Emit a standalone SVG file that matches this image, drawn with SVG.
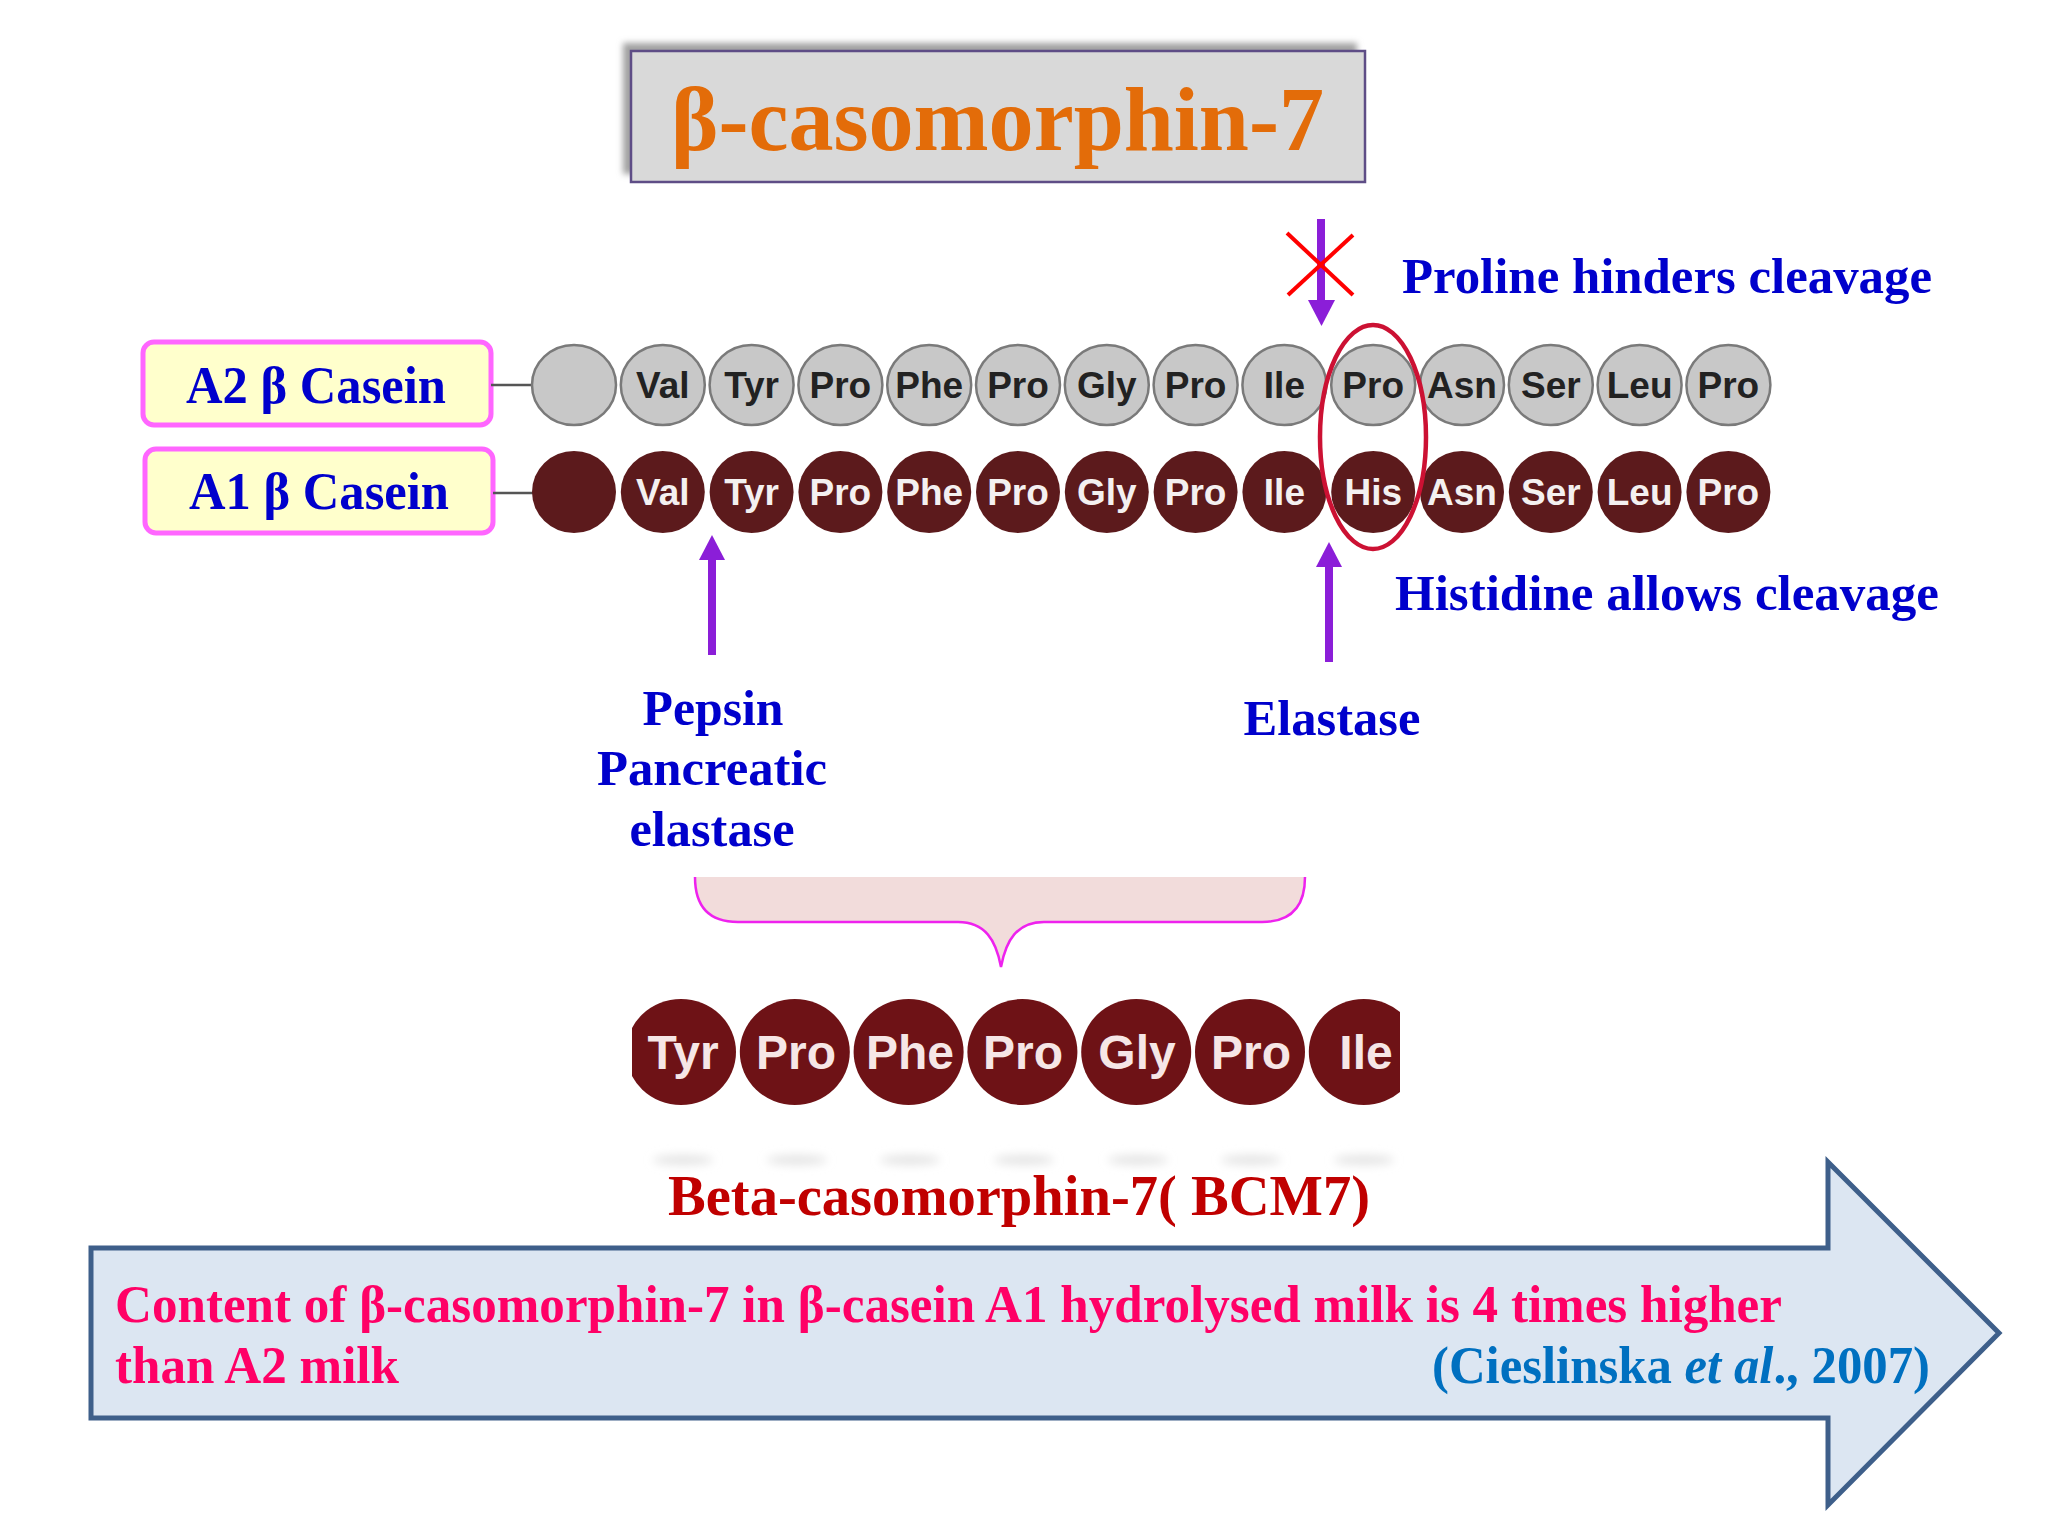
<svg xmlns="http://www.w3.org/2000/svg" width="2048" height="1536" viewBox="0 0 2048 1536">
<defs>
<filter id="blur3" x="-10%" y="-10%" width="120%" height="120%"><feGaussianBlur stdDeviation="3"/></filter>
<filter id="blur4" x="-50%" y="-200%" width="200%" height="500%"><feGaussianBlur stdDeviation="5"/></filter>
<clipPath id="bcmClip"><rect x="632" y="985" width="768" height="135"/></clipPath>
<style>
.serif{font-family:"Liberation Serif","Times New Roman",serif;font-weight:bold}
.blue{fill:#0000CC}
.lbl{fill:#FFFFCC;stroke:#FF66FF;stroke-width:5}
.aa{font-family:"Liberation Sans",Arial,sans-serif;font-weight:bold;font-size:37px;text-anchor:middle}
.g{fill:#C8C8C8;stroke:#7A7A7A;stroke-width:2.5}
.gt{fill:#222222}
.m{fill:#5C1A1C}
.mt{fill:#F4F0F0}
.b{fill:#6E1216}
.bt{font-family:"Liberation Sans",Arial,sans-serif;font-weight:bold;font-size:48px;text-anchor:middle;fill:#F6E6E6}
.pur{fill:#8B1ED8}
</style>
</defs>
<rect width="2048" height="1536" fill="#FFFFFF"/>

<g id="title">
<rect x="623" y="43" width="734" height="131" fill="#A0A0A0" filter="url(#blur3)"/>
<rect x="631" y="51" width="734" height="131" fill="#D9D9D9" stroke="#5E4D86" stroke-width="2.5"/>
<text class="serif" x="671" y="150" font-size="90" fill="#E36C09" textLength="653" lengthAdjust="spacingAndGlyphs">β-casomorphin-7</text>
</g>

<g id="label-a2">
<rect class="lbl" x="143" y="342" width="348" height="83" rx="11"/>
<text class="serif blue" x="186" y="403" font-size="52" textLength="260" lengthAdjust="spacingAndGlyphs">A2 β Casein</text>
</g>
<g id="label-a1">
<rect class="lbl" x="145" y="449" width="348" height="84" rx="11"/>
<text class="serif blue" x="189" y="509" font-size="52" textLength="260" lengthAdjust="spacingAndGlyphs">A1 β Casein</text>
</g>

<g id="connectors">
<line x1="491" y1="385" x2="534" y2="385" stroke="#555555" stroke-width="2.5"/>
<line x1="493" y1="493" x2="534" y2="493" stroke="#555555" stroke-width="2.5"/>
<line x1="1321" y1="219" x2="1321" y2="302" stroke="#8B1ED8" stroke-width="8"/>
<polygon class="pur" points="1308,300 1335,300 1321.5,326"/>
<line x1="1287" y1="233" x2="1353" y2="295" stroke="#FF0000" stroke-width="4"/>
<line x1="1353" y1="235" x2="1288" y2="295" stroke="#FF0000" stroke-width="4"/>
<line x1="712" y1="558" x2="712" y2="655" stroke="#8B1ED8" stroke-width="8"/>
<polygon class="pur" points="699,560 725,560 712,535"/>
<line x1="1329" y1="565" x2="1329" y2="662" stroke="#8B1ED8" stroke-width="8"/>
<polygon class="pur" points="1316,567 1342,567 1329,542"/>
<path d="M695,877 C695,905 708,922 738,922 L958,922 C985,922 996,940 1001,967 C1006,940 1017,922 1044,922 L1262,922 C1292,922 1305,905 1305,877 Z" fill="#F2DCDB" stroke="none"/>
<path d="M695,877 C695,905 708,922 738,922 L958,922 C985,922 996,940 1001,967 C1006,940 1017,922 1044,922 L1262,922 C1292,922 1305,905 1305,877" fill="none" stroke="#EE22EE" stroke-width="2.5"/>
</g>

<g id="a2-chain">
<ellipse class="g" cx="574" cy="385" rx="42" ry="40"/>
<ellipse class="g" cx="662.8" cy="385" rx="42" ry="40"/>
<ellipse class="g" cx="751.6" cy="385" rx="42" ry="40"/>
<ellipse class="g" cx="840.4" cy="385" rx="42" ry="40"/>
<ellipse class="g" cx="929.2" cy="385" rx="42" ry="40"/>
<ellipse class="g" cx="1018" cy="385" rx="42" ry="40"/>
<ellipse class="g" cx="1106.8" cy="385" rx="42" ry="40"/>
<ellipse class="g" cx="1195.6" cy="385" rx="42" ry="40"/>
<ellipse class="g" cx="1284.4" cy="385" rx="42" ry="40"/>
<ellipse class="g" cx="1373.2" cy="385" rx="42" ry="40"/>
<ellipse class="g" cx="1462" cy="385" rx="42" ry="40"/>
<ellipse class="g" cx="1550.8" cy="385" rx="42" ry="40"/>
<ellipse class="g" cx="1639.6" cy="385" rx="42" ry="40"/>
<ellipse class="g" cx="1728.4" cy="385" rx="42" ry="40"/>
<g class="aa gt">
<text x="662.8" y="398">Val</text>
<text x="751.6" y="398">Tyr</text>
<text x="840.4" y="398">Pro</text>
<text x="929.2" y="398">Phe</text>
<text x="1018" y="398">Pro</text>
<text x="1106.8" y="398">Gly</text>
<text x="1195.6" y="398">Pro</text>
<text x="1284.4" y="398">Ile</text>
<text x="1373.2" y="398">Pro</text>
<text x="1462" y="398">Asn</text>
<text x="1550.8" y="398">Ser</text>
<text x="1639.6" y="398">Leu</text>
<text x="1728.4" y="398">Pro</text>
</g>
</g>

<g id="a1-chain">
<ellipse class="m" cx="574" cy="492" rx="42" ry="41"/>
<ellipse class="m" cx="662.8" cy="492" rx="42" ry="41"/>
<ellipse class="m" cx="751.6" cy="492" rx="42" ry="41"/>
<ellipse class="m" cx="840.4" cy="492" rx="42" ry="41"/>
<ellipse class="m" cx="929.2" cy="492" rx="42" ry="41"/>
<ellipse class="m" cx="1018" cy="492" rx="42" ry="41"/>
<ellipse class="m" cx="1106.8" cy="492" rx="42" ry="41"/>
<ellipse class="m" cx="1195.6" cy="492" rx="42" ry="41"/>
<ellipse class="m" cx="1284.4" cy="492" rx="42" ry="41"/>
<ellipse class="m" cx="1373.2" cy="492" rx="42" ry="41"/>
<ellipse class="m" cx="1462" cy="492" rx="42" ry="41"/>
<ellipse class="m" cx="1550.8" cy="492" rx="42" ry="41"/>
<ellipse class="m" cx="1639.6" cy="492" rx="42" ry="41"/>
<ellipse class="m" cx="1728.4" cy="492" rx="42" ry="41"/>
<g class="aa mt">
<text x="662.8" y="505">Val</text>
<text x="751.6" y="505">Tyr</text>
<text x="840.4" y="505">Pro</text>
<text x="929.2" y="505">Phe</text>
<text x="1018" y="505">Pro</text>
<text x="1106.8" y="505">Gly</text>
<text x="1195.6" y="505">Pro</text>
<text x="1284.4" y="505">Ile</text>
<text x="1373.2" y="505">His</text>
<text x="1462" y="505">Asn</text>
<text x="1550.8" y="505">Ser</text>
<text x="1639.6" y="505">Leu</text>
<text x="1728.4" y="505">Pro</text>
</g>
</g>

<g id="highlight">
<ellipse cx="1373" cy="437" rx="53" ry="112" fill="none" stroke="#CC1133" stroke-width="4.5"/>
</g>

<g id="proline-note">
<text class="serif blue" x="1402" y="293" font-size="50" textLength="530" lengthAdjust="spacingAndGlyphs">Proline hinders cleavage</text>
</g>
<g id="histidine-note">
<text class="serif blue" x="1395" y="610" font-size="50" textLength="544" lengthAdjust="spacingAndGlyphs">Histidine allows cleavage</text>
</g>
<g id="pepsin-label" class="serif blue" font-size="50" text-anchor="middle">
<text x="713" y="725" textLength="141" lengthAdjust="spacingAndGlyphs">Pepsin</text>
<text x="712" y="785" textLength="230" lengthAdjust="spacingAndGlyphs">Pancreatic</text>
<text x="712" y="846" textLength="165" lengthAdjust="spacingAndGlyphs">elastase</text>
</g>
<g id="elastase-label">
<text class="serif blue" x="1332" y="735" font-size="50" text-anchor="middle" textLength="177" lengthAdjust="spacingAndGlyphs">Elastase</text>
</g>

<g id="bcm7-peptide">
<g fill="#E4E4E4" filter="url(#blur4)">
<ellipse cx="683" cy="1160" rx="30" ry="5"/>
<ellipse cx="797" cy="1160" rx="30" ry="5"/>
<ellipse cx="910" cy="1160" rx="30" ry="5"/>
<ellipse cx="1024" cy="1160" rx="30" ry="5"/>
<ellipse cx="1138" cy="1160" rx="30" ry="5"/>
<ellipse cx="1251" cy="1160" rx="30" ry="5"/>
<ellipse cx="1364" cy="1160" rx="30" ry="5"/>
</g>
<g clip-path="url(#bcmClip)">
<ellipse class="b" cx="681" cy="1052" rx="55" ry="53"/>
<ellipse class="b" cx="794.8" cy="1052" rx="55" ry="53"/>
<ellipse class="b" cx="908.6" cy="1052" rx="55" ry="53"/>
<ellipse class="b" cx="1022.4" cy="1052" rx="55" ry="53"/>
<ellipse class="b" cx="1136.2" cy="1052" rx="55" ry="53"/>
<ellipse class="b" cx="1250" cy="1052" rx="55" ry="53"/>
<ellipse class="b" cx="1363.8" cy="1052" rx="55" ry="53"/>
<text class="bt" x="683" y="1069">Tyr</text>
<text class="bt" x="796" y="1069">Pro</text>
<text class="bt" x="910" y="1069">Phe</text>
<text class="bt" x="1023" y="1069">Pro</text>
<text class="bt" x="1137" y="1069">Gly</text>
<text class="bt" x="1251" y="1069">Pro</text>
<text class="bt" x="1366" y="1069">Ile</text>
</g>
<text class="serif" x="668" y="1215" font-size="56" fill="#C00000" textLength="702" lengthAdjust="spacingAndGlyphs">Beta-casomorphin-7( BCM7)</text>
</g>

<g id="summary-arrow">
<polygon points="91,1248 1828,1248 1828,1162 1999,1333 1828,1505 1828,1418 91,1418" fill="#DCE6F2" stroke="#3E5F8A" stroke-width="5" stroke-linejoin="miter"/>
<text class="serif" x="115" y="1322" font-size="52" fill="#FF0066" textLength="1667" lengthAdjust="spacingAndGlyphs">Content of β-casomorphin-7 in β-casein A1 hydrolysed milk is 4 times higher</text>
<text class="serif" x="115" y="1383" font-size="52" fill="#FF0066" textLength="284" lengthAdjust="spacingAndGlyphs">than A2 milk</text>
<text class="serif" x="1432" y="1383" font-size="52" fill="#0070C0" textLength="498" lengthAdjust="spacingAndGlyphs">(Cieslinska <tspan font-style="italic">et al</tspan>., 2007)</text>
</g>
</svg>
